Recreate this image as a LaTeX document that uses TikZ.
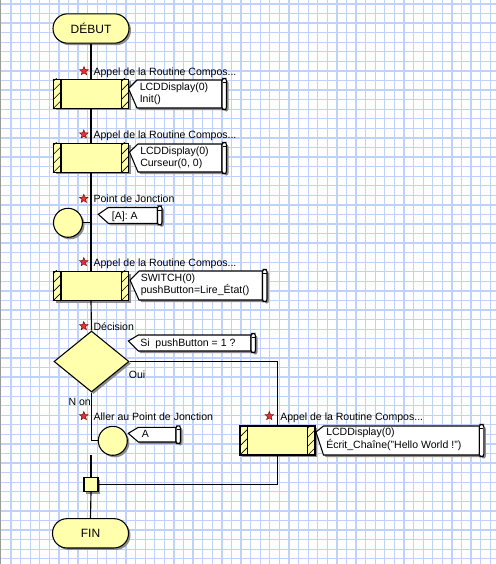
\documentclass[tikz,border=0pt]{standalone}
\usepackage{fontspec}
\setmainfont{Liberation Sans}
\usetikzlibrary{shapes.geometric,shadows,calc}
\definecolor{fcyellow}{RGB}{255,255,172}
\definecolor{gridc}{RGB}{190,210,252}
\definecolor{shadc}{RGB}{140,140,140}
\definecolor{starred}{RGB}{230,50,50}
\newcommand\fcfont{\fontsize{7.9}{9.4}\selectfont}
\tikzset{
 fcline/.style={line width=0.85pt},
 fcshape/.style={draw=black, line width=0.8pt, fill=fcyellow, drop shadow={shadow xshift=1.5pt, shadow yshift=-1.5pt, fill=shadc, opacity=1}},
 terminal/.style={fcshape, rectangle, rounded corners=10.9pt, minimum width=57pt, minimum height=22pt, inner sep=0pt, font=\fontsize{9}{11}\selectfont},
 routine/.style={fcshape, rectangle, minimum width=56.25pt, minimum height=21.75pt, inner sep=0pt},
 decision/.style={fcshape, diamond, minimum width=56.25pt, minimum height=45.75pt, inner sep=0pt},
 conn/.style={fcshape, circle, minimum size=21.75pt, inner sep=0pt},
 jsq/.style={fcshape, rectangle, minimum size=10.5pt, inner sep=0pt},
 lbl/.style={anchor=base west, inner sep=0pt, font=\fcfont},
 fcstar/.style={star, star points=5, star point ratio=2.3, minimum size=6.8pt, inner sep=0pt, fill=starred, draw=black!60!red, line width=0.3pt},
 hatchline/.style={line width=0.5pt},
}
\newcommand\fchatch[1]{%
 \begin{scope}
  \clip (#1.north west) rectangle ($(#1.south west)+(8,0)$);
  \foreach \hk in {0,...,4} \draw[hatchline] ($(#1.north west)+(0,9*\hk+3)$) -- ++(8,-8);
 \end{scope}
 \begin{scope}
  \clip ($(#1.north east)+(-8,0)$) rectangle (#1.south east);
  \foreach \hk in {0,...,4} \draw[hatchline] ($(#1.north east)+(-8,9*\hk+3)$) -- ++(8,-8);
 \end{scope}
 \draw[line width=0.8pt] ($(#1.north west)+(8,0)$) -- ($(#1.south west)+(8,0)$);
 \draw[line width=0.8pt] ($(#1.north east)+(-8,0)$) -- ($(#1.south east)+(-8,0)$);
}
% #1 xp  #2 yp  #3 xl  #4 xr  #5 yt  #6 yb
\newcommand\fccall[6]{%
 \fill[shadc, shift={(2,2)}] (#3,#5) -- (#4,#5) -- (#4,#6) -- (#3,#6) -- (#1,#2) -- cycle;
 \filldraw[fill=white, draw=black, line width=0.8pt] (#3,#5) -- (#4,#5) -- (#4,#6) -- (#3,#6) -- (#1,#2) -- cycle;
 \fill[shadc, rounded corners=1.7pt, shift={(2,2)}] (#4,#5-1.5) rectangle (#4+4.5,#6+1.5);
 \filldraw[fill=white, draw=black, line width=0.8pt, rounded corners=1.7pt] (#4,#5-1.5) rectangle (#4+4.5,#6+1.5);
 \draw[line width=0.6pt] (#4+0.5,#5+2.5) -- (#4+4,#5+2.5);
}
\begin{document}
\begin{tikzpicture}[x=0.75pt,y=-0.75pt]
\useasboundingbox (0,0) rectangle (496,564);
\fill[white] (0,0) rectangle (496,564);
\foreach \i in {0,...,51} \draw[gridc, line width=0.95pt] ({11+9.585*\i},0) -- ({11+9.585*\i},564);
\foreach \j in {0,...,58} \draw[gridc, line width=0.95pt] (0,{4+9.565*\j}) -- (496,{4+9.565*\j});
\draw[black!40, line width=1pt] (0.6,0) -- (0.6,564);

% nodes
\node[terminal] (start) at (91,28.5) {DÉBUT};
\node[routine] (b1) at (91,93.8) {};
\node[routine] (b2) at (91,157.8) {};
\node[conn] (jp) at (68,222.8) {};
\node[routine] (b3) at (91,286) {};
\node[decision] (dec) at (91.5,361.5) {};
\node[conn] (goto) at (112.8,440.8) {};
\node[routine] (b4) at (277.5,440.5) {};
\node[jsq] (js) at (91,484.5) {};
\node[terminal] (end) at (90.5,533.3) {FIN};
\coordinate (stub) at (91,455);

\fchatch{b1}
\fchatch{b2}
\fchatch{b3}
\fchatch{b4}

% connectors
\draw[fcline] (start.south) -- (b1.north);
\draw[fcline] (b1.south) -- (b2.north);
\draw[fcline] (b2.south) -- (b3.north);
\draw[fcline] (jp.east) -- (jp.east -| b2.south);
\draw[fcline] (b3.south) -- (dec.north);
\draw[fcline] (dec.east) -| (b4.north);
\draw[fcline] (dec.south) |- (goto.west);
\draw[fcline] (b4.south) |- (js.east);
\draw[fcline] (stub) -- (js.north);
\draw[fcline] (js.south) -- (end.north);

% stars and labels
\node[fcstar] (s1) at (84,71) {};
\node[lbl] (l1) at (93.3,75) {Appel de la Routine Compos...};
\node[fcstar] (s2) at (83.8,134.3) {};
\node[lbl] (l2) at (93.3,138.3) {Appel de la Routine Compos...};
\node[fcstar] (s3) at (83.8,198.7) {};
\node[lbl] (l3) at (93.3,202.7) {Point de Jonction};
\node[fcstar] (s4) at (83.8,262) {};
\node[lbl] (l4) at (93.3,266.5) {Appel de la Routine Compos...};
\node[fcstar] (s5) at (83.8,326) {};
\node[lbl] (l5) at (93.3,330) {Décision};
\node[fcstar] (s6) at (83.8,416) {};
\node[lbl] (l6) at (93.3,420.5) {Aller au Point de Jonction};
\node[fcstar] (s7) at (269.3,416) {};
\node[lbl] (l7) at (280,420.5) {Appel de la Routine Compos...};
\node[lbl] (oui) at (128.6,378) {Oui};
\node[lbl] (non) at (68.3,405) {N on};

% callouts
\fccall{128.5}{88.5}{137}{222}{80}{108}
\node[lbl] (c1a) at (139.5,90.5) {LCDDisplay(0)};
\node[lbl] (c1b) at (139.5,102.7) {Init()};
\fccall{129.5}{152}{138}{222}{144}{172}
\node[lbl] (c2a) at (140,154) {LCDDisplay(0)};
\node[lbl] (c2b) at (140,166.2) {Curseur(0, 0)};
\fccall{98.3}{214.3}{108.3}{157.5}{207.5}{223.3}
\node[lbl] (c3a) at (111.7,219) {[A]: A};
\fccall{130}{280}{139}{262.5}{271}{300}
\node[lbl] (c4a) at (140.5,281) {SWITCH(0)};
\node[lbl] (c4b) at (140.5,293.7) {pushButton=Lire\_État()};
\fccall{128.3}{341}{138.3}{251}{335}{351}
\node[lbl] (c5a) at (140,346) {Si\ \ pushButton = 1 ?};
\fccall{128.3}{433.3}{138.3}{176}{427.3}{442}
\node[lbl] (c6a) at (141.7,437.5) {A};
\fccall{316}{432}{323.5}{479.3}{426}{455}
\node[lbl] (c7a) at (326,435.5) {LCDDisplay(0)};
\node[lbl] (c7b) at (326,448.7) {Écrit\_Chaîne("Hello World !")};
\end{tikzpicture}
\end{document}
